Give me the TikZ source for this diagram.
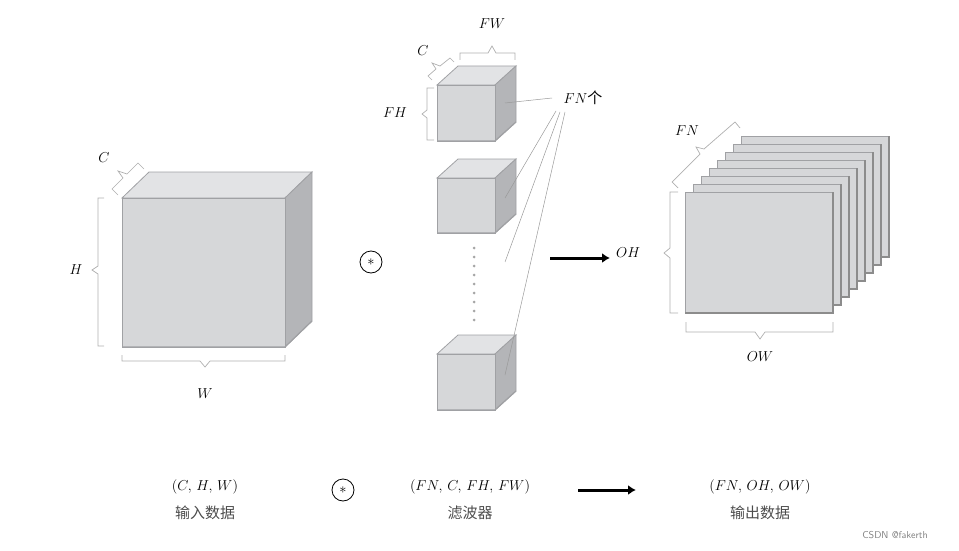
\documentclass[tikz,border=0pt]{standalone}
\usepackage{fontspec}
\usetikzlibrary{arrows.meta}
\newfontfamily\cjk{Noto Sans CJK SC}
\begin{document}
\begin{tikzpicture}[x=1pt,y=-1pt,font=\fontsize{15}{17}\selectfont,
  front/.style={fill=faceC,draw=edgeC,line width=0.8pt},
  top/.style={fill=topC,draw=edgeC,line width=0.8pt},
  side/.style={fill=sideC,draw=edgeC,line width=0.8pt},
  br/.style={draw=brC,line width=0.7pt},
  ln/.style={draw=gray!80,line width=0.5pt},
  lab/.style={inner sep=1pt}]
\definecolor{faceC}{RGB}{214,215,217}
\definecolor{topC}{RGB}{226,227,229}
\definecolor{sideC}{RGB}{180,181,184}
\definecolor{edgeC}{RGB}{160,161,164}
\definecolor{brC}{RGB}{175,175,175}
\useasboundingbox (0,0) rectangle (959,551);
\newcommand{\mycube}[6]{% x1 y1 x2 y2 dx dy
  \fill[top] (#1,#2) -- ++(#5,-#6) -- (#3+#5,#2-#6) -- (#3,#2) -- cycle;
  \fill[side] (#3,#2) -- (#3+#5,#2-#6) -- (#3+#5,#4-#6) -- (#3,#4) -- cycle;
  \fill[front] (#1,#2) rectangle (#3,#4);
  \draw[edgeC,line width=1.2pt] (#1,#4) -- (#3,#4) -- (#3+#5,#4-#6);}
% input cube
\mycube{122}{198}{285}{347}{27}{26}
\draw[br] (104,198) -- (98,198) -- (98,266) -- (92,270) -- (98,274) -- (98,346) -- (104,346);
\node[lab] (H) at (76,270) {$H$};
\draw[br] (122,355) -- (122,361) -- (200,361) -- (205,367) -- (210,361) -- (285,361) -- (285,355);
\node[lab] (W) at (205,394) {$W$};
\draw[br] (118,195) -- (112,189) -- (123,178) -- (118,171) -- (127,174) -- (138,163) -- (144,169);
\node[lab] (C) at (104,158) {$C$};
% conv symbol
\node[circle,draw,line width=0.8pt,minimum size=22pt,inner sep=0pt] (cv) at (371,262) {$\ast$};
% filters
\mycube{437}{85}{495}{141}{21}{19}
\mycube{437}{178}{495}{233}{21}{19}
\mycube{437}{354}{495}{410}{21}{19}
\foreach \y in {248,257,...,320} \fill[gray!70] (474,\y) circle (1.5);
\draw[br] (460,60) -- (460,53) -- (488,53) -- (492,46) -- (496,53) -- (515,53) -- (515,60);
\node[lab] (FW) at (492,24) {$FW$};
\draw[br] (434,88) -- (427,88) -- (427,110) -- (422,114) -- (427,118) -- (427,140) -- (434,140);
\node[lab] (FH) at (395,113) {$FH$};
\draw[br] (432,80) -- (428,76) -- (436,69) -- (432,63) -- (440,66) -- (450,58) -- (454,62);
\node[lab] (Cf) at (423,51) {$C$};
\node[lab] (FN) at (583,98) {$FN${\cjk 个}};
\coordinate (p1) at (505,103); \coordinate (p2) at (505,198);
\coordinate (p3) at (505,262); \coordinate (p4) at (505,375);
\draw[ln] (p1) -- (552,98);
\draw[ln] (p2) -- (556,111);
\draw[ln] (p3) -- (560,112);
\draw[ln] (p4) -- (565,112);
% arrow
\coordinate (a1) at (550,258); \coordinate (a2) at (610,258);
\draw[line width=3pt,-{Latex[length=8pt,width=10pt]}] (a1) -- (a2);
\node[lab,anchor=west] (OH) at (615,253) {$OH$};
% output stack
\foreach \i in {7,6,...,0}{
  \pgfmathsetmacro\dx{8*\i}
  \fill[faceC,draw=edgeC,line width=0.6pt] (685+\dx,192-\dx) rectangle (833+\dx,313-\dx);
  \draw[gray!90,line width=1.2pt] (685+\dx,313-\dx) -- (833+\dx,313-\dx) -- (833+\dx,192-\dx);
}
\draw[br] (678,192) -- (670,192) -- (670,248) -- (664,253) -- (670,258) -- (670,313) -- (678,313);
\draw[br] (686,322) -- (686,332) -- (755,332) -- (760,339) -- (765,332) -- (833,332) -- (833,322);
\node[lab] (OW) at (760,357) {$OW$};
\draw[br] (678,188) -- (672,182) -- (700,154) -- (696,147) -- (704,149) -- (735,122) -- (740,128);
\node[lab] (FNo) at (687,131) {$FN$};
% bottom captions
\node[lab] (t1) at (205,487) {$(C,\,H,\,W)$};
\node[lab,text=black!70] (t1c) at (205,513) {\cjk 输入数据};
\node[circle,draw,line width=0.8pt,minimum size=22pt,inner sep=0pt] (cv2) at (343,490) {$\ast$};
\node[lab] (t2) at (470,487) {$(FN,\,C,\,FH,\,FW)$};
\node[lab,text=black!70] (t2c) at (470,513) {\cjk 滤波器};
\coordinate (b1) at (578,490); \coordinate (b2) at (636,490);
\draw[line width=3pt,-{Latex[length=8pt,width=10pt]}] (b1) -- (b2);
\node[lab] (t3) at (760,487) {$(FN,\,OH,\,OW)$};
\node[lab,text=black!70] (t3c) at (760,513) {\cjk 输出数据};
\node[text=gray,font=\fontsize{10}{12}\selectfont\sffamily] (wm) at (895,535) {CSDN @fakerth};
\end{tikzpicture}
\end{document}
